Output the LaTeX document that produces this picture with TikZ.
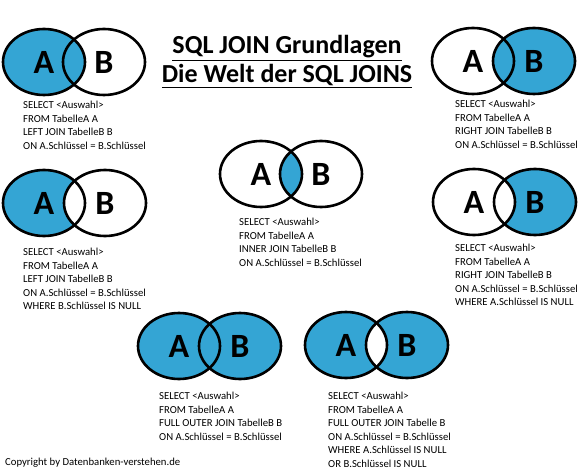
\documentclass[tikz,border=0pt]{standalone}
\usepackage{fontspec}
\setmainfont{Carlito}
\definecolor{vennblue}{RGB}{52,165,212}
\tikzset{
  ring/.style={line width=2.6pt, draw=black},
  blob/.style={fill=vennblue},
  blank/.style={fill=white},
  letter/.style={font=\fontsize{34}{34}\selectfont\bfseries, inner sep=0pt},
  code/.style={font=\fontsize{10.7}{13.5}\selectfont, align=left, anchor=north west, inner sep=0pt},
  headline/.style={font=\fontsize{26}{29}\selectfont\bfseries, align=center, inner sep=0pt}
}
\newcommand\ea[1]{(#1) ellipse [x radius=41pt, y radius=33pt]}
\begin{document}
\begin{tikzpicture}[x=1pt,y=-1pt]
\useasboundingbox (0,0) rectangle (580,470);
% coordinates of circle centres
\coordinate (tlA) at (44,62);  \coordinate (tlB) at (104,62);
\coordinate (trA) at (473,61); \coordinate (trB) at (534,61);
\coordinate (cA) at (261,174); \coordinate (cB) at (321,174);
\coordinate (mlA) at (44,203); \coordinate (mlB) at (105,203);
\coordinate (mrA) at (474,202); \coordinate (mrB) at (535,202);
\coordinate (blA) at (179,346); \coordinate (blB) at (240,346);
\coordinate (brA) at (346,345); \coordinate (brB) at (407,345);
% fills
\fill[blob] \ea{tlA};
\fill[blob] \ea{trB};
\begin{scope}\clip \ea{cA}; \fill[blob] \ea{cB}; \end{scope}
\fill[blob] \ea{mlA}; \fill[blank] \ea{mlB};
\fill[blob] \ea{mrB}; \fill[blank] \ea{mrA};
\fill[blob] \ea{blA}; \fill[blob] \ea{blB};
\fill[blob] \ea{brA}; \fill[blob] \ea{brB};
\begin{scope}\clip \ea{brA}; \fill[blank] \ea{brB}; \end{scope}
% outlines
\foreach \p in {tl,tr,c,ml,mr,bl,br}{
  \draw[ring] \ea{\p A};
  \draw[ring] \ea{\p B};
}
% letters
\foreach \p in {tl,tr,c,ml,mr,bl,br}{
  \node[letter] (\p LA) at (\p A) {A};
  \node[letter] (\p LB) at (\p B) {B};
}
% title
\node[headline] (title) at (287,62) {\underline{SQL JOIN Grundlagen}\\\underline{Die Welt der SQL JOINS}};
% code blocks
\node[code] (tltext) at (23,101) {SELECT <Auswahl>\\FROM TabelleA A\\LEFT JOIN TabelleB B\\ON A.Schlüssel = B.Schlüssel};
\node[code] (trtext) at (455,100) {SELECT <Auswahl>\\FROM TabelleA A\\RIGHT JOIN TabelleB B\\ON A.Schlüssel = B.Schlüssel};
\node[code] (ctext) at (239,218) {SELECT <Auswahl>\\FROM TabelleA A\\INNER JOIN TabelleB B\\ON A.Schlüssel = B.Schlüssel};
\node[code] (mltext) at (23,248) {SELECT <Auswahl>\\FROM TabelleA A\\LEFT JOIN TabelleB B\\ON A.Schlüssel = B.Schlüssel\\WHERE B.Schlüssel IS NULL};
\node[code] (mrtext) at (455,244) {SELECT <Auswahl>\\FROM TabelleA A\\RIGHT JOIN TabelleB B\\ON A.Schlüssel = B.Schlüssel\\WHERE A.Schlüssel IS NULL};
\node[code] (bltext) at (159,392) {SELECT <Auswahl>\\FROM TabelleA A\\FULL OUTER JOIN TabelleB B\\ON A.Schlüssel = B.Schlüssel};
\node[code] (brtext) at (328,392) {SELECT <Auswahl>\\FROM TabelleA A\\FULL OUTER JOIN Tabelle B\\ON A.Schlüssel = B.Schlüssel\\WHERE A.Schlüssel IS NULL\\OR B.Schlüssel IS NULL};
\node[code] (copy) at (5,458) {Copyright by Datenbanken-verstehen.de};
\end{tikzpicture}
\end{document}
